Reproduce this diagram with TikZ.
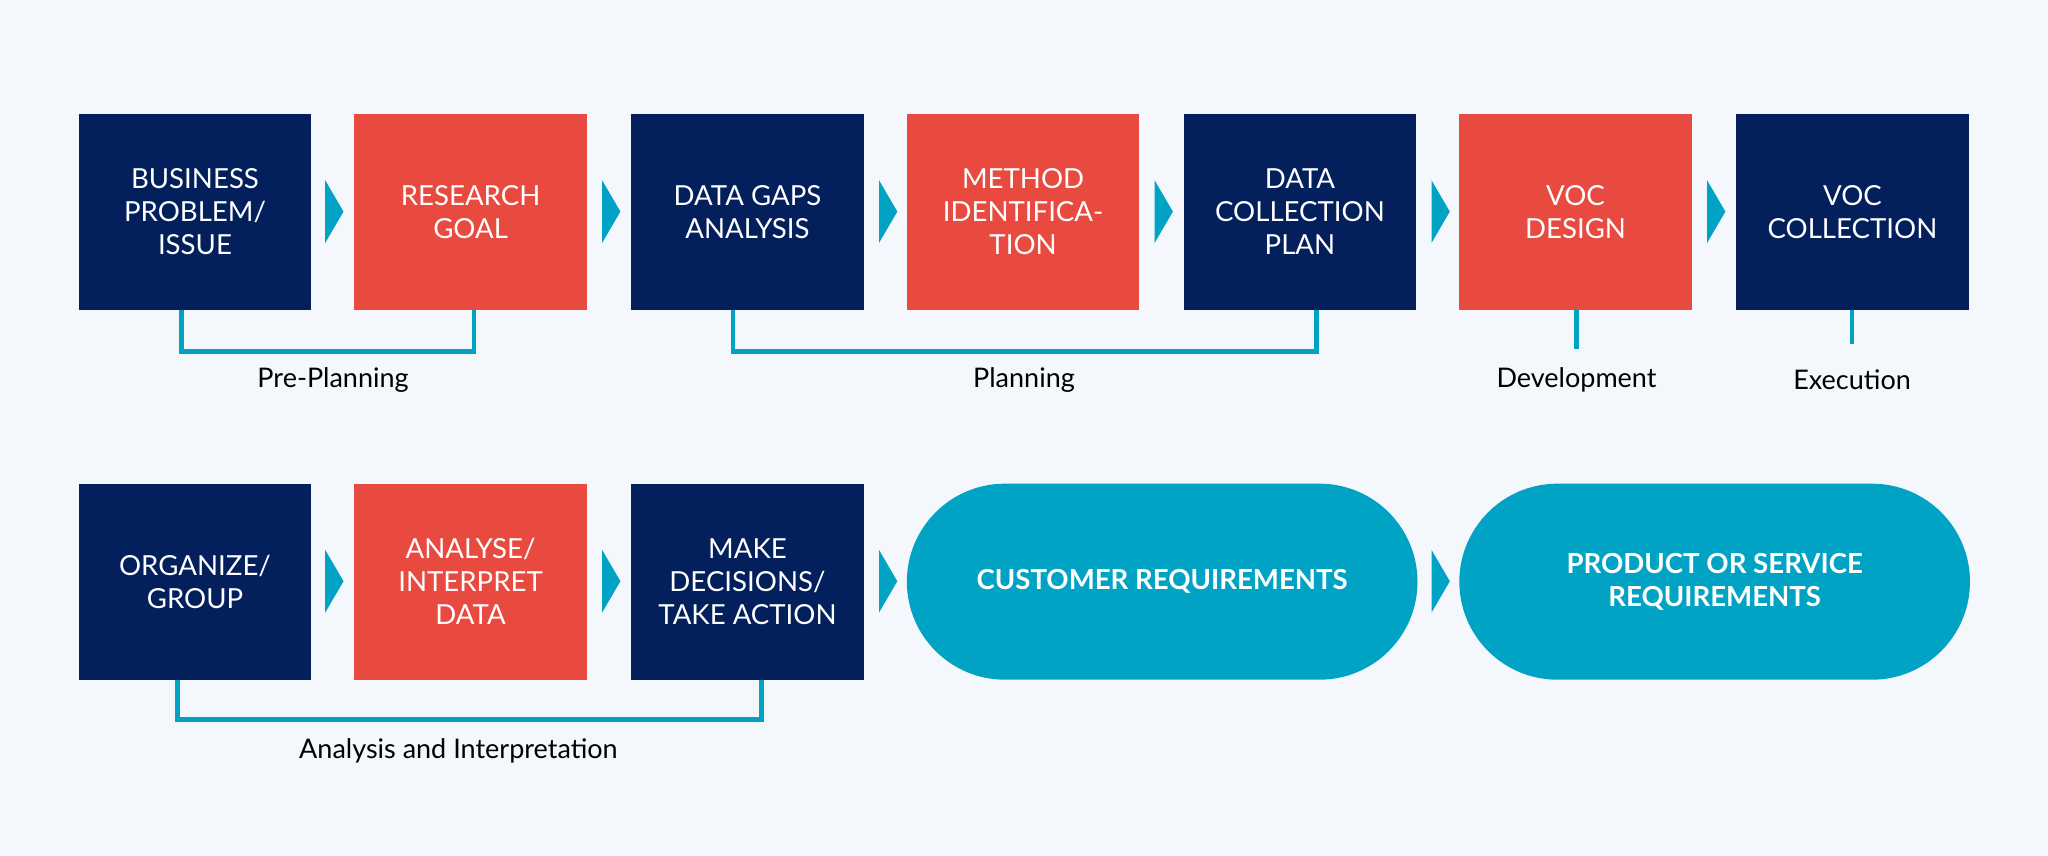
\documentclass[tikz,border=0pt]{standalone}
\usepackage{fontspec}
\setmainfont{Lato}
\definecolor{navy}{HTML}{03205C}
\definecolor{redb}{HTML}{E94A40}
\definecolor{tealc}{HTML}{00A3C4}
\definecolor{bgc}{HTML}{F4F8FC}
\begin{document}
\begin{tikzpicture}[x=0.653pt,y=-0.653pt,
 box/.style={minimum width=116.2pt,minimum height=98pt,inner sep=0pt,text=white,align=center,font=\fontsize{13.8}{16.5}\selectfont,anchor=north west},
 nb/.style={box,fill=navy},
 rb/.style={box,fill=redb},
 pill/.style={box,fill=tealc,minimum width=255.3pt,rounded corners=49pt,font=\bfseries\fontsize{13.8}{16.5}\selectfont},
 brk/.style={draw=tealc,line width=2.2pt},
 lab/.style={font=\fontsize{13.5}{16}\selectfont,text=black}]
\useasboundingbox (0,0) rectangle (1568,655);
\fill[bgc] (0,0) rectangle (1568,655);
\node[nb] (a1) at (60,87) {BUSINESS\\PROBLEM/\\ISSUE};
\node[rb] (a2) at (271,87) {RESEARCH\\GOAL};
\node[nb] (a3) at (483,87) {DATA GAPS\\ANALYSIS};
\node[rb] (a4) at (694,87) {METHOD\\IDENTIFICA-\\TION};
\node[nb] (a5) at (906,87) {DATA\\COLLECTION\\PLAN};
\node[rb] (a6) at (1117,87) {VOC\\DESIGN};
\node[nb] (a7) at (1329,87) {VOC\\COLLECTION};
\node[nb] (b1) at (60,370) {ORGANIZE/\\GROUP};
\node[rb] (b2) at (271,370) {ANALYSE/\\INTERPRET\\DATA};
\node[nb] (b3) at (483,370) {MAKE\\DECISIONS/\\TAKE ACTION};
\node[pill] (b4) at (694,370) {CUSTOMER REQUIREMENTS};
\node[pill] (b5) at (1117,370) {PRODUCT OR SERVICE\\REQUIREMENTS};
\foreach \x in {249,461,673,884,1096,1307} \fill[tealc] (\x,138) -- (\x+14,162) -- (\x,186) -- cycle;
\foreach \x in {249,461,673,1096} \fill[tealc] (\x,421) -- (\x+14,445) -- (\x,469) -- cycle;
\coordinate (p1) at (139,269); \coordinate (p2) at (363,269);
\draw[brk] (a1.south -| p1) -- (p1) -- (p2) -- (a2.south -| p2);
\coordinate (q1) at (561,269); \coordinate (q2) at (1008,269);
\draw[brk] (a3.south -| q1) -- (q1) -- (q2) -- (a5.south -| q2);
\coordinate (d1) at (1207,267); \draw[brk] (a6.south -| d1) -- (d1);
\coordinate (e1) at (1418,263); \draw[brk] (a7.south -| e1) -- (e1);
\coordinate (r1) at (136,551); \coordinate (r2) at (583,551);
\draw[brk] (b1.south -| r1) -- (r1) -- (r2) -- (b3.south -| r2);
\node[lab] (l1) at (255,291) {Pre-Planning};
\node[lab] (l2) at (784,291) {Planning};
\node[lab] (l3) at (1207,291) {Development};
\node[lab] (l4) at (1418,291) {Execution};
\node[lab] (l5) at (351,575) {Analysis and Interpretation};
\end{tikzpicture}
\end{document}
